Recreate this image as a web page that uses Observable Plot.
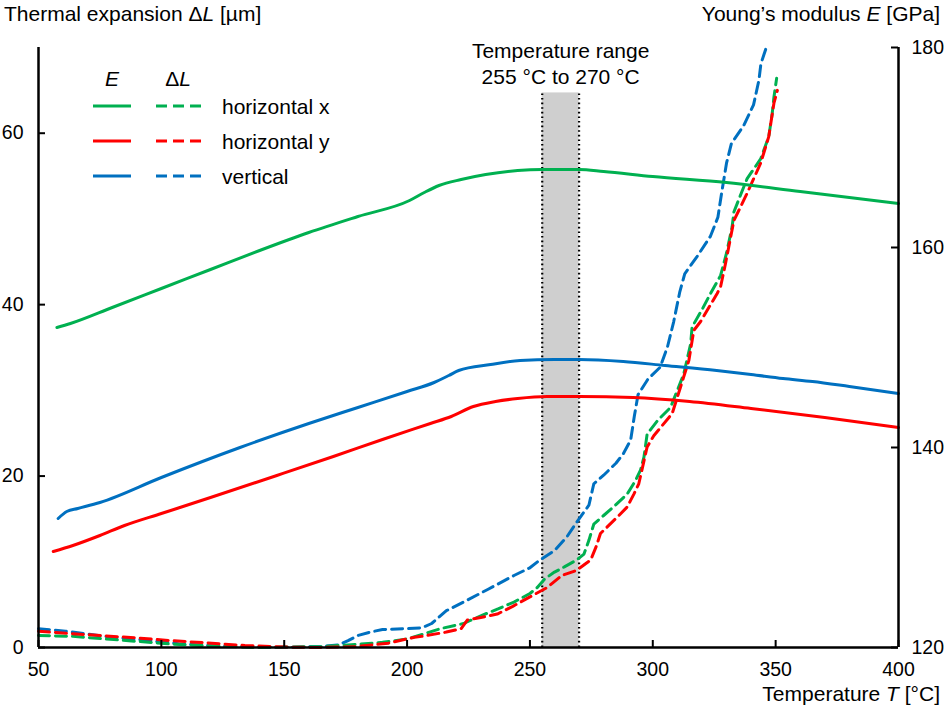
<!DOCTYPE html>
<html>
<head>
<meta charset="utf-8">
<script src="https://cdn.jsdelivr.net/npm/d3@7"></script>
<script src="https://cdn.jsdelivr.net/npm/@observablehq/plot@0.6"></script>
<style>
  body { margin: 0; background: #fff; }
  #chart { width: 944px; height: 711px; }
</style>
</head>
<body>
<div id="chart"></div>
<script>
// ---- Data ----
// Young's modulus E [GPa] vs temperature T [°C]
const eXT = [57.5, 63, 80, 100, 120, 140, 160, 180, 201, 207, 213, 222, 232, 245, 255, 270, 280, 300, 330, 360, 400];
const eXV = [152.0, 152.4, 154.0, 155.9, 157.8, 159.7, 161.5, 163.1, 164.7, 165.5, 166.2, 166.8, 167.3, 167.7, 167.8, 167.8, 167.6, 167.1, 166.5, 165.6, 164.4];

const eYT = [56, 64, 75, 85, 100, 120, 147, 170, 190, 209.5, 218, 227, 236, 245, 257, 270, 292, 315, 340, 370, 400];
const eYV = [129.6, 130.2, 131.2, 132.2, 133.4, 135.0, 137.2, 139.1, 140.8, 142.4, 143.1, 144.1, 144.6, 144.9, 145.1, 145.1, 145.0, 144.6, 143.9, 143.0, 142.0];

const eVT = [58, 61.5, 66, 75, 100, 132, 160, 180, 200, 211, 217, 221, 234, 246, 260, 270, 288, 305, 326, 340, 353, 365, 380, 400];
const eVV = [132.9, 133.6, 133.9, 134.5, 137.0, 140.0, 142.4, 144.0, 145.6, 146.5, 147.2, 147.7, 148.3, 148.7, 148.8, 148.8, 148.6, 148.2, 147.7, 147.3, 146.9, 146.6, 146.1, 145.4];

// Thermal expansion ΔL [µm] vs temperature T [°C]
const dXT = [50, 64, 77, 91, 104, 118, 138, 165, 179, 190, 200, 207, 213.6, 223, 230, 237, 243.5, 250, 253, 256, 260, 264, 269, 272, 274, 276, 280, 284, 289.6, 293, 295, 296.4, 297.7, 302, 307.2, 310, 312.6, 315.4, 316, 320, 323.5, 327.6, 330, 332.3, 333, 336, 338.4, 343.9, 347.2, 348.6, 349.3, 350.4];
const dXV = [1.4, 1.3, 1.0, 0.7, 0.4, 0.2, 0, 0.1, 0.35, 0.6, 1.0, 1.6, 2.2, 2.8, 3.7, 4.5, 5.3, 6.3, 7.0, 8.0, 8.8, 9.4, 10.2, 10.9, 12.5, 14.4, 15.4, 16.4, 17.9, 19.5, 20.7, 22.2, 24.9, 26.5, 28.0, 30.0, 31.9, 35.4, 37.4, 39.4, 41.3, 43.4, 46.0, 49.1, 50.8, 53.0, 54.7, 57.0, 59.6, 62.3, 64.2, 66.4];

const dYT = [50, 64, 91, 104, 118, 134, 152, 165, 179, 189, 192.4, 203, 206, 216, 222, 224.5, 230, 236.7, 243, 250, 257, 263, 269, 274.7, 277, 278.7, 285.5, 289.6, 292.3, 294.3, 297.7, 300.4, 307.9, 311.3, 314.7, 316.7, 319.4, 326.2, 327.6, 329.6, 333, 338.4, 343.9, 347.2, 349.3, 350.7];
const dYV = [1.9, 1.6, 1.1, 0.8, 0.55, 0.23, 0.04, 0, 0.1, 0.4, 0.5, 1.2, 1.3, 1.8, 2.2, 3.2, 3.5, 3.9, 4.8, 5.9, 7.0, 8.4, 9.0, 10.2, 11.8, 13.3, 15.2, 16.4, 17.9, 19.1, 23.4, 24.7, 27.3, 30.4, 33.5, 37.0, 38.0, 41.3, 42.1, 44.8, 49.8, 53.0, 56.5, 59.6, 63.5, 65.0];

const dVT = [50, 61, 77, 95, 107, 124, 145, 165, 172, 176, 180, 185, 190, 200, 206, 210, 216, 223, 233, 243.5, 250, 254, 260, 265, 269, 274, 276, 280, 285, 288, 291, 292.5, 294, 298, 303, 306, 308.5, 311, 313, 318, 323.5, 326.5, 328, 330, 332, 337, 341, 343.2, 344, 346.3];
const dVV = [2.2, 1.9, 1.3, 0.8, 0.45, 0.15, 0, 0.1, 0.3, 0.8, 1.4, 1.8, 2.1, 2.2, 2.3, 2.8, 4.3, 5.3, 6.8, 8.4, 9.3, 10.2, 11.3, 12.9, 14.6, 16.6, 19.1, 20.1, 21.5, 22.6, 24.2, 27.0, 29.5, 31.3, 32.7, 35.1, 38.0, 41.5, 43.6, 45.6, 48.0, 50.2, 53.0, 56.5, 58.8, 60.9, 63.3, 66.2, 68.1, 70.1];

// Axes / ticks
const xTicks = [50, 100, 150, 200, 250, 300, 350, 400];
const leftTicks = [0, 20, 40, 60];
const rightTicks = [120, 140, 160, 180];
const xDomain = [50, 400];
const leftDomain = [0, 70];
const rightDomain = [120, 180];

// Highlighted temperature range
const rangeT = [255, 270];
const rangeTop = 64.7;
const rangeLabel = "Temperature range\n255 °C to 270 °C";

const seriesNames = ["horizontal x", "horizontal y", "vertical"];
const seriesColors = ["#00b050", "#ff0000", "#0070c0"];

// ---- Helpers ----
const eToY = e => (e - rightDomain[0]) * (leftDomain[1] - leftDomain[0]) / (rightDomain[1] - rightDomain[0]) + leftDomain[0];
const yToE = y => (y - leftDomain[0]) * (rightDomain[1] - rightDomain[0]) / (leftDomain[1] - leftDomain[0]) + rightDomain[0];
const rowsE = (T, V) => T.map((t, i) => ({T: t, v: eToY(V[i])}));
const rowsD = (T, V) => T.map((t, i) => ({T: t, v: V[i]}));

const W = 944, H = 711, mL = 38, mR = 46, mT = 47, mB = 64;
const fw = W - mL - mR, fh = H - mT - mB;
const FONT = "'Liberation Sans', Arial, sans-serif";
const DASH = "11,6";
const TXT = 21;   // titles, legend, annotation
const TICK = 19.5; // tick labels

const plot = Plot.plot({
  width: W, height: H,
  marginLeft: mL, marginRight: mR, marginTop: mT, marginBottom: mB,
  style: {fontFamily: FONT, fontSize: "20px", background: "white", color: "black", overflow: "visible"},
  x: {domain: xDomain, label: null},
  y: {domain: leftDomain, label: null},
  marks: [
    Plot.rect([{x1: rangeT[0], x2: rangeT[1], y1: 0, y2: rangeTop}], {x1: "x1", x2: "x2", y1: "y1", y2: "y2", fill: "#cfcfcf"}),
    Plot.ruleX(rangeT, {y1: 0, y2: rangeTop, stroke: "black", strokeWidth: 2.2, strokeDasharray: "1.6,3"}),
    Plot.line(rowsD(dVT, dVV), {x: "T", y: "v", stroke: seriesColors[2], strokeWidth: 3, strokeDasharray: DASH}),
    Plot.line(rowsD(dXT, dXV), {x: "T", y: "v", stroke: seriesColors[0], strokeWidth: 3, strokeDasharray: DASH}),
    Plot.line(rowsD(dYT, dYV), {x: "T", y: "v", stroke: seriesColors[1], strokeWidth: 3, strokeDasharray: DASH}),
    Plot.line(rowsE(eXT, eXV), {x: "T", y: "v", stroke: seriesColors[0], strokeWidth: 3, curve: "monotone-x"}),
    Plot.line(rowsE(eYT, eYV), {x: "T", y: "v", stroke: seriesColors[1], strokeWidth: 3, curve: "monotone-x"}),
    Plot.line(rowsE(eVT, eVV), {x: "T", y: "v", stroke: seriesColors[2], strokeWidth: 3, curve: "monotone-x"}),
    Plot.ruleX(xDomain, {stroke: "black", strokeWidth: 2.5}),
    Plot.ruleY([leftDomain[0]], {stroke: "black", strokeWidth: 2.5}),
    Plot.tickX(xTicks, {x: d => d, insetTop: fh - 7, stroke: "black", strokeWidth: 2}),
    Plot.tickY(leftTicks, {y: d => d, insetRight: fw - 7, stroke: "black", strokeWidth: 2}),
    Plot.tickY(rightTicks.map(eToY), {y: d => d, insetLeft: fw - 7, stroke: "black", strokeWidth: 2}),
    Plot.axisX(xTicks, {tickSize: 0, tickPadding: 15, fontSize: TICK, label: null}),
    Plot.axisY(leftTicks, {anchor: "left", tickSize: 0, tickPadding: 15, fontSize: TICK, label: null}),
    Plot.axisY(rightTicks.map(eToY), {anchor: "right", tickSize: 0, tickPadding: 13, fontSize: TICK, label: null, tickFormat: d => String(Math.round(yToE(d)))}),
    Plot.text([{T: (rangeT[0] + rangeT[1]) / 2, label: rangeLabel}], {x: "T", text: "label", frameAnchor: "top", lineAnchor: "middle", dy: 15.5, lineHeight: 1.22, fontSize: TXT, fill: "black"})
  ]
});

document.getElementById("chart").appendChild(plot);

// ---- Titles and legend ----
const svg = d3.select(plot);
function richText(x, y, anchor, parts) {
  const t = svg.append("text").attr("x", x).attr("y", y).attr("text-anchor", anchor)
    .attr("font-size", TXT).attr("font-family", FONT).attr("fill", "black");
  parts.forEach(([s, it]) => t.append("tspan").attr("font-style", it ? "italic" : "normal").text(s));
  return t;
}
richText(4, 21, "start", [["Thermal expansion Δ", false], ["L", true], [" [µm]", false]]);
richText(940, 21, "end", [["Young’s modulus ", false], ["E", true], [" [GPa]", false]]);
richText(940, 701, "end", [["Temperature ", false], ["T", true], [" [°C]", false]]);

// Legend
richText(112, 86, "middle", [["E", true]]);
richText(178, 86, "middle", [["Δ", false], ["L", true]]);
const legendY = [106, 141, 176];
seriesNames.forEach((name, i) => {
  const y = legendY[i];
  svg.append("line").attr("x1", 93).attr("x2", 131).attr("y1", y).attr("y2", y)
    .attr("stroke", seriesColors[i]).attr("stroke-width", 3);
  svg.append("line").attr("x1", 156).attr("x2", 201).attr("y1", y).attr("y2", y)
    .attr("stroke", seriesColors[i]).attr("stroke-width", 3).attr("stroke-dasharray", DASH);
  richText(222, y + 7.5, "start", [[name, false]]);
});
</script>
</body>
</html>
